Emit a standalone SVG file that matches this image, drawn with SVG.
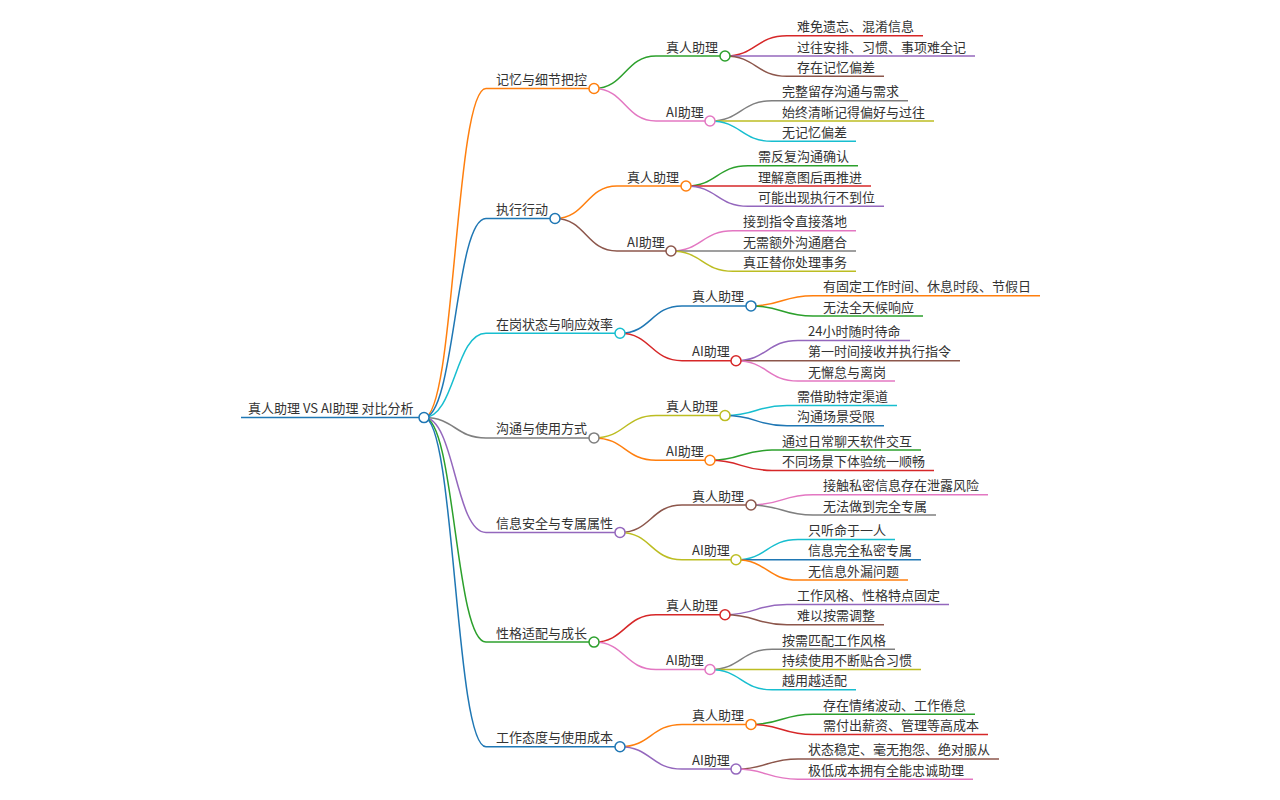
<svg xmlns="http://www.w3.org/2000/svg" width="1280" height="800" viewBox="0 0 1280 800">
<style>
path{fill:none;stroke-width:1.5}
circle{fill:#fff;stroke-width:1.5}
text{font-family:"Noto Sans CJK SC","Noto Sans",sans-serif;font-size:13px;fill:#333}
.b{stroke:#1f77b4}.o{stroke:#ff7f0e}.g{stroke:#2ca02c}.r{stroke:#d62728}.p{stroke:#9467bd}
.br{stroke:#8c564b}.pk{stroke:#e377c2}.gy{stroke:#7f7f7f}.ol{stroke:#bcbd22}.cy{stroke:#17becf}
</style>
<rect width="1280" height="800" fill="#fff"/>
<g id="connectors">
<path class="o" d="M424,417.6 C455,417.6 455,88.5 486,88.5"/>
<path class="b" d="M424,417.6 C455,417.6 455,218.5 486,218.5"/>
<path class="cy" d="M424,417.6 C455,417.6 455,333.3 486,333.3"/>
<path class="gy" d="M424,417.6 C455,417.6 455,437.9 486,437.9"/>
<path class="p" d="M424,417.6 C455,417.6 455,532.4 486,532.4"/>
<path class="g" d="M424,417.6 C455,417.6 455,642.1 486,642.1"/>
<path class="b" d="M424,417.6 C455,417.6 455,746.7 486,746.7"/>
<path class="g" d="M594,88.5 C625,88.5 625,56 656,56"/>
<path class="pk" d="M594,88.5 C625,88.5 625,121 656,121"/>
<path class="r" d="M725,56 C756,56 756,35.7 787,35.7"/>
<path class="p" d="M725,56 H787"/>
<path class="br" d="M725,56 C756,56 756,76.3 787,76.3"/>
<path class="gy" d="M710,121 C741,121 741,100.7 772,100.7"/>
<path class="ol" d="M710,121 H772"/>
<path class="cy" d="M710,121 C741,121 741,141.3 772,141.3"/>
<path class="o" d="M555,218.5 C586,218.5 586,186 617,186"/>
<path class="br" d="M555,218.5 C586,218.5 586,251 617,251"/>
<path class="g" d="M686,186 C717,186 717,165.7 748,165.7"/>
<path class="r" d="M686,186 H748"/>
<path class="p" d="M686,186 C717,186 717,206.3 748,206.3"/>
<path class="pk" d="M671,251 C702,251 702,230.7 733,230.7"/>
<path class="gy" d="M671,251 H733"/>
<path class="ol" d="M671,251 C702,251 702,271.3 733,271.3"/>
<path class="b" d="M620,333.3 C651,333.3 651,305.9 682,305.9"/>
<path class="r" d="M620,333.3 C651,333.3 651,360.7 682,360.7"/>
<path class="o" d="M751,305.9 C782,305.9 782,295.7 813,295.7"/>
<path class="g" d="M751,305.9 C782,305.9 782,316 813,316"/>
<path class="p" d="M736,360.7 C767,360.7 767,340.4 798,340.4"/>
<path class="br" d="M736,360.7 H798"/>
<path class="pk" d="M736,360.7 C767,360.7 767,381 798,381"/>
<path class="ol" d="M594,437.9 C625,437.9 625,415.6 656,415.6"/>
<path class="o" d="M594,437.9 C625,437.9 625,460.3 656,460.3"/>
<path class="cy" d="M725,415.6 C756,415.6 756,405.4 787,405.4"/>
<path class="b" d="M725,415.6 C756,415.6 756,425.7 787,425.7"/>
<path class="g" d="M710,460.3 C741,460.3 741,450.1 772,450.1"/>
<path class="r" d="M710,460.3 C741,460.3 741,470.4 772,470.4"/>
<path class="br" d="M620,532.4 C651,532.4 651,505 682,505"/>
<path class="ol" d="M620,532.4 C651,532.4 651,559.8 682,559.8"/>
<path class="pk" d="M751,505 C782,505 782,494.8 813,494.8"/>
<path class="gy" d="M751,505 C782,505 782,515.1 813,515.1"/>
<path class="cy" d="M736,559.8 C767,559.8 767,539.5 798,539.5"/>
<path class="b" d="M736,559.8 H798"/>
<path class="o" d="M736,559.8 C767,559.8 767,580.1 798,580.1"/>
<path class="r" d="M594,642.1 C625,642.1 625,614.7 656,614.7"/>
<path class="pk" d="M594,642.1 C625,642.1 625,669.5 656,669.5"/>
<path class="p" d="M725,614.7 C756,614.7 756,604.5 787,604.5"/>
<path class="br" d="M725,614.7 C756,614.7 756,624.8 787,624.8"/>
<path class="gy" d="M710,669.5 C741,669.5 741,649.2 772,649.2"/>
<path class="ol" d="M710,669.5 H772"/>
<path class="cy" d="M710,669.5 C741,669.5 741,689.8 772,689.8"/>
<path class="o" d="M620,746.7 C651,746.7 651,724.4 682,724.4"/>
<path class="p" d="M620,746.7 C651,746.7 651,769.1 682,769.1"/>
<path class="g" d="M751,724.4 C782,724.4 782,714.2 813,714.2"/>
<path class="r" d="M751,724.4 C782,724.4 782,734.5 813,734.5"/>
<path class="br" d="M736,769.1 C767,769.1 767,758.9 798,758.9"/>
<path class="pk" d="M736,769.1 C767,769.1 767,779.2 798,779.2"/>
</g>
<g id="root"><path class="b" d="M241,417.6 H424"/><circle class="b" cx="424" cy="417.6" r="5"/><text x="248" y="413">真人助理 VS AI助理 对比分析</text></g>

<g id="n1"><path class="o" d="M486,88.5 H594"/><circle class="o" cx="594" cy="88.5" r="5"/><text x="496" y="84">记忆与细节把控</text></g>
<g id="n1a"><path class="g" d="M656,56 H725"/><circle class="g" cx="725" cy="56" r="5"/><text x="666" y="51.5">真人助理</text></g>
<g id="n1a1"><path class="r" d="M787,35.7 H923"/><text x="797" y="31.2">难免遗忘、混淆信息</text></g>
<g id="n1a2"><path class="p" d="M787,56 H975"/><text x="797" y="51.5">过往安排、习惯、事项难全记</text></g>
<g id="n1a3"><path class="br" d="M787,76.3 H884"/><text x="797" y="71.8">存在记忆偏差</text></g>
<g id="n1b"><path class="pk" d="M656,121 H710"/><circle class="pk" cx="710" cy="121" r="5"/><text x="666" y="116.5">AI助理</text></g>
<g id="n1b1"><path class="gy" d="M772,100.7 H908"/><text x="782" y="96.2">完整留存沟通与需求</text></g>
<g id="n1b2"><path class="ol" d="M772,121 H934"/><text x="782" y="116.5">始终清晰记得偏好与过往</text></g>
<g id="n1b3"><path class="cy" d="M772,141.3 H856"/><text x="782" y="136.8">无记忆偏差</text></g>

<g id="n2"><path class="b" d="M486,218.5 H555"/><circle class="b" cx="555" cy="218.5" r="5"/><text x="496" y="214">执行行动</text></g>
<g id="n2a"><path class="o" d="M617,186 H686"/><circle class="o" cx="686" cy="186" r="5"/><text x="627" y="181.5">真人助理</text></g>
<g id="n2a1"><path class="g" d="M748,165.7 H858"/><text x="758" y="161.2">需反复沟通确认</text></g>
<g id="n2a2"><path class="r" d="M748,186 H871"/><text x="758" y="181.5">理解意图后再推进</text></g>
<g id="n2a3"><path class="p" d="M748,206.3 H884"/><text x="758" y="201.8">可能出现执行不到位</text></g>
<g id="n2b"><path class="br" d="M617,251 H671"/><circle class="br" cx="671" cy="251" r="5"/><text x="627" y="246.5">AI助理</text></g>
<g id="n2b1"><path class="pk" d="M733,230.7 H856"/><text x="743" y="226.2">接到指令直接落地</text></g>
<g id="n2b2"><path class="gy" d="M733,251 H856"/><text x="743" y="246.5">无需额外沟通磨合</text></g>
<g id="n2b3"><path class="ol" d="M733,271.3 H856"/><text x="743" y="266.8">真正替你处理事务</text></g>

<g id="n3"><path class="cy" d="M486,333.3 H620"/><circle class="cy" cx="620" cy="333.3" r="5"/><text x="496" y="328.8">在岗状态与响应效率</text></g>
<g id="n3a"><path class="b" d="M682,305.9 H751"/><circle class="b" cx="751" cy="305.9" r="5"/><text x="692" y="301.4">真人助理</text></g>
<g id="n3a1"><path class="o" d="M813,295.7 H1040"/><text x="823" y="291.2">有固定工作时间、休息时段、节假日</text></g>
<g id="n3a2"><path class="g" d="M813,316 H923"/><text x="823" y="311.5">无法全天候响应</text></g>
<g id="n3b"><path class="r" d="M682,360.7 H736"/><circle class="r" cx="736" cy="360.7" r="5"/><text x="692" y="356.2">AI助理</text></g>
<g id="n3b1"><path class="p" d="M798,340.4 H910"/><text x="808" y="335.9">24小时随时待命</text></g>
<g id="n3b2"><path class="br" d="M798,360.7 H960"/><text x="808" y="356.2">第一时间接收并执行指令</text></g>
<g id="n3b3"><path class="pk" d="M798,381 H895"/><text x="808" y="376.5">无懈怠与离岗</text></g>

<g id="n4"><path class="gy" d="M486,437.9 H594"/><circle class="gy" cx="594" cy="437.9" r="5"/><text x="496" y="433.4">沟通与使用方式</text></g>
<g id="n4a"><path class="ol" d="M656,415.6 H725"/><circle class="ol" cx="725" cy="415.6" r="5"/><text x="666" y="411.1">真人助理</text></g>
<g id="n4a1"><path class="cy" d="M787,405.4 H897"/><text x="797" y="400.9">需借助特定渠道</text></g>
<g id="n4a2"><path class="b" d="M787,425.7 H884"/><text x="797" y="421.2">沟通场景受限</text></g>
<g id="n4b"><path class="o" d="M656,460.3 H710"/><circle class="o" cx="710" cy="460.3" r="5"/><text x="666" y="455.8">AI助理</text></g>
<g id="n4b1"><path class="g" d="M772,450.1 H921"/><text x="782" y="445.6">通过日常聊天软件交互</text></g>
<g id="n4b2"><path class="r" d="M772,470.4 H934"/><text x="782" y="465.9">不同场景下体验统一顺畅</text></g>

<g id="n5"><path class="p" d="M486,532.4 H620"/><circle class="p" cx="620" cy="532.4" r="5"/><text x="496" y="527.9">信息安全与专属属性</text></g>
<g id="n5a"><path class="br" d="M682,505 H751"/><circle class="br" cx="751" cy="505" r="5"/><text x="692" y="500.5">真人助理</text></g>
<g id="n5a1"><path class="pk" d="M813,494.8 H988"/><text x="823" y="490.3">接触私密信息存在泄露风险</text></g>
<g id="n5a2"><path class="gy" d="M813,515.1 H936"/><text x="823" y="510.6">无法做到完全专属</text></g>
<g id="n5b"><path class="ol" d="M682,559.8 H736"/><circle class="ol" cx="736" cy="559.8" r="5"/><text x="692" y="555.3">AI助理</text></g>
<g id="n5b1"><path class="cy" d="M798,539.5 H895"/><text x="808" y="535">只听命于一人</text></g>
<g id="n5b2"><path class="b" d="M798,559.8 H921"/><text x="808" y="555.3">信息完全私密专属</text></g>
<g id="n5b3"><path class="o" d="M798,580.1 H908"/><text x="808" y="575.6">无信息外漏问题</text></g>

<g id="n6"><path class="g" d="M486,642.1 H594"/><circle class="g" cx="594" cy="642.1" r="5"/><text x="496" y="637.6">性格适配与成长</text></g>
<g id="n6a"><path class="r" d="M656,614.7 H725"/><circle class="r" cx="725" cy="614.7" r="5"/><text x="666" y="610.2">真人助理</text></g>
<g id="n6a1"><path class="p" d="M787,604.5 H949"/><text x="797" y="600">工作风格、性格特点固定</text></g>
<g id="n6a2"><path class="br" d="M787,624.8 H884"/><text x="797" y="620.3">难以按需调整</text></g>
<g id="n6b"><path class="pk" d="M656,669.5 H710"/><circle class="pk" cx="710" cy="669.5" r="5"/><text x="666" y="665">AI助理</text></g>
<g id="n6b1"><path class="gy" d="M772,649.2 H895"/><text x="782" y="644.7">按需匹配工作风格</text></g>
<g id="n6b2"><path class="ol" d="M772,669.5 H921"/><text x="782" y="665">持续使用不断贴合习惯</text></g>
<g id="n6b3"><path class="cy" d="M772,689.8 H856"/><text x="782" y="685.3">越用越适配</text></g>

<g id="n7"><path class="b" d="M486,746.7 H620"/><circle class="b" cx="620" cy="746.7" r="5"/><text x="496" y="742.2">工作态度与使用成本</text></g>
<g id="n7a"><path class="o" d="M682,724.4 H751"/><circle class="o" cx="751" cy="724.4" r="5"/><text x="692" y="719.9">真人助理</text></g>
<g id="n7a1"><path class="g" d="M813,714.2 H975"/><text x="823" y="709.7">存在情绪波动、工作倦怠</text></g>
<g id="n7a2"><path class="r" d="M813,734.5 H988"/><text x="823" y="730">需付出薪资、管理等高成本</text></g>
<g id="n7b"><path class="p" d="M682,769.1 H736"/><circle class="p" cx="736" cy="769.1" r="5"/><text x="692" y="764.6">AI助理</text></g>
<g id="n7b1"><path class="br" d="M798,758.9 H999"/><text x="808" y="754.4">状态稳定、毫无抱怨、绝对服从</text></g>
<g id="n7b2"><path class="pk" d="M798,779.2 H973"/><text x="808" y="774.7">极低成本拥有全能忠诚助理</text></g>
</svg>
